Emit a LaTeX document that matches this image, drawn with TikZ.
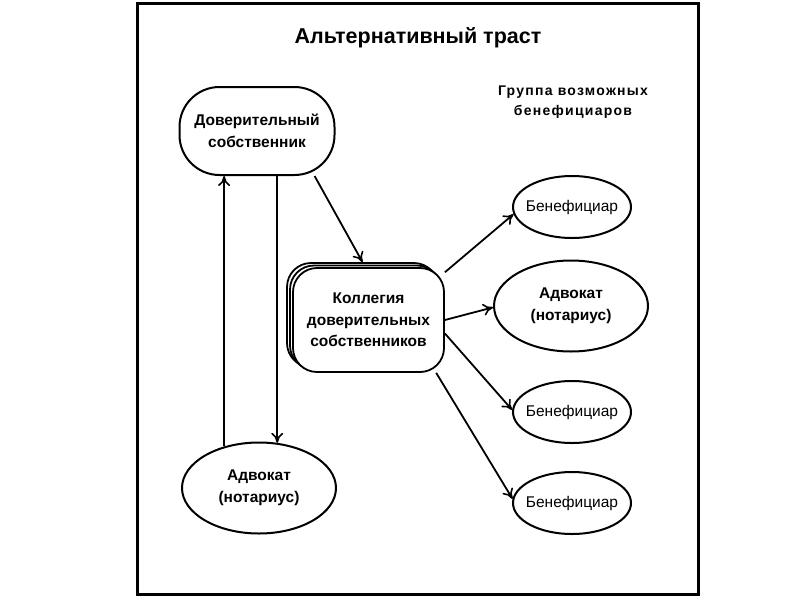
\documentclass[tikz,border=0pt]{standalone}
\usepackage{fontspec}
\setmainfont{Liberation Sans}
\usetikzlibrary{shapes.geometric,arrows.meta,calc}
\begin{document}
\begin{tikzpicture}[x=1pt,y=-1pt,
  arr/.style={line width=1.8pt,-{To[length=10pt,width=12pt,line width=1.6pt]}},
  boxtext/.style={font=\fontsize{15.5}{21.5}\selectfont\bfseries,align=center},
  dovbox/.style={draw,line width=2pt,rounded corners=40pt,minimum width=155pt,minimum height=88pt,boxtext},
  kollbox/.style={draw,line width=1.8pt,rounded corners=24pt,minimum width=151pt,minimum height=104pt,fill=white},
  ell/.style={draw,ellipse,line width=2pt,inner sep=0pt},
  bigell/.style={ell,minimum width=154pt,minimum height=91pt,boxtext},
  benell/.style={ell,inner xsep=-8pt,minimum width=118pt,minimum height=62pt,font=\fontsize{15.5}{18}\selectfont},
]
\useasboundingbox (0,0) rectangle (800,600);
\node[draw,line width=2.8pt,minimum width=561pt,minimum height=591pt,anchor=north west] (frame) at (136,2) {};

\node[font=\fontsize{21.5}{24}\selectfont\bfseries] (title) at (418,38) {Альтернативный траст};
\node[font=\fontsize{14}{20}\selectfont\bfseries\addfontfeatures{LetterSpace=9},align=center] (group) at (573,102) {Группа возможных\\бенефициаров};

\node[dovbox] (dov) at (257,131) {Доверительный\\собственник};

\node[kollbox] (kollb) at (362.5,315) {};
\node[kollbox] (kollm) at (365.5,317.5) {};
\node[kollbox,boxtext] (koll) at (368.5,320) {Коллегия\\доверительных\\собственников};

\node[bigell] (adv) at (259,488) {Адвокат\\(нотариус)};

\node[benell] (ben1) at (572,207) {Бенефициар};
\node[bigell] (adv2) at (571,306) {Адвокат\\(нотариус)};
\node[benell] (ben2) at (572,412) {Бенефициар};
\node[benell] (ben3) at (572,503) {Бенефициар};

\draw[arr] (adv.130) -- (adv.130 |- dov.south);
\draw[arr] (adv.68 |- dov.south) -- (adv.68);
\draw[arr] (dov.-38) -- (kollb.north);

\draw[arr] (koll.32) -- (ben1.187);
\draw[arr] (koll.0) -- (adv2.181);
\draw[arr] (koll.-10) -- (ben2.178);
\draw[arr] (koll.-38) -- (ben3.176);
\end{tikzpicture}
\end{document}
